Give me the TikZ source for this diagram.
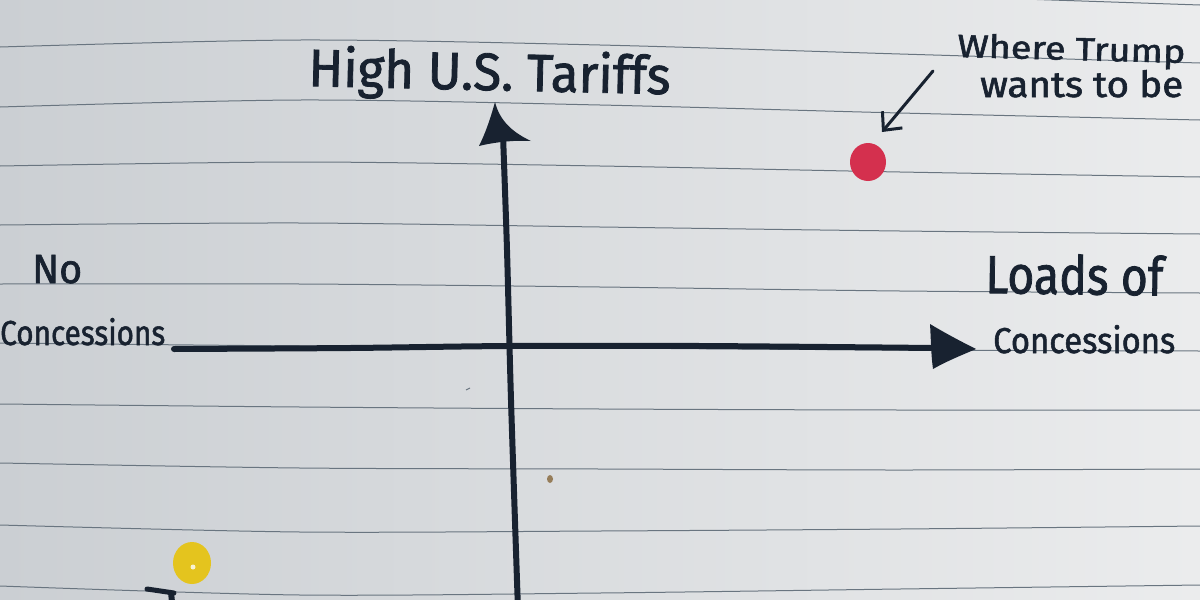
\documentclass[tikz,border=0pt]{standalone}
\usepackage{fontspec}
\setmainfont{Fira Sans}
\newfontfamily\handfont{Fira Sans}[FakeBold=1.6]
\usepackage{graphicx}
\usetikzlibrary{arrows.meta,shapes.geometric}
\definecolor{ink}{RGB}{24,34,48}
\definecolor{rulec}{RGB}{105,117,128}
\definecolor{paperL}{RGB}{203,207,211}
\definecolor{paperM}{RGB}{225,227,229}
\definecolor{paperR}{RGB}{235,236,237}
\definecolor{reddot}{RGB}{212,48,78}
\definecolor{yeldot}{RGB}{228,196,30}
\definecolor{speck}{RGB}{150,125,90}
\newcommand{\hw}[3]{\resizebox{#1pt}{#2pt}{\handfont #3}}
\begin{document}
\begin{tikzpicture}[x=1pt,y=-1pt,
  ruled/.style={draw=rulec,line width=1pt},
  axisline/.style={draw=ink,line width=6pt,line cap=round,line join=round},
  hand/.style={text=ink,inner sep=0pt,anchor=base west},
  pointer/.style={draw=ink,line width=3pt,line cap=round,-{Straight Barb[length=14pt,width=26pt]}}]
\useasboundingbox (0,0) rectangle (1200,600);
\clip (0,0) rectangle (1200,600);
\shade[left color=paperL,middle color=paperM,right color=paperR] (0,0) rectangle (1200,600);
% ruled lines
\foreach \a/\b/\c/\d/\e in {-13/-18/-14/-5/5, 47/40/45/54/63, 107/100/105/113/120,
  166/162/166/172/177, 225/223/227/231/234, 284/284/287/291/293, 343/346/348/350/351,
  404/407/409/410/410, 463/468/469/470/469, 525/532/531/529/526, 586/595/593/589/585}
  \draw[ruled] plot[smooth] coordinates {(0,\a)(300,\b)(600,\c)(900,\d)(1200,\e)};
% specks
\fill[speck] (550,479) ellipse (3 and 4);
\draw[rulec,line width=1pt] (466,390) -- (470,388);
% vertical axis
\draw[axisline] plot[smooth] coordinates {(503,135)(507,250)(511,400)(518,610)};
\fill[ink] (495,102) .. controls (490,120) and (485,134) .. (479,146)
  .. controls (495,142) and (515,140) .. (531,141)
  .. controls (514,133) and (500,122) .. (495,102) -- cycle;
% horizontal axis
\draw[axisline] plot[smooth] coordinates {(174,349)(350,348)(510,346)(700,346)(935,348)};
\fill[ink] (930,324) .. controls (945,333) and (960,341) .. (976,349)
  .. controls (962,355) and (947,361) .. (933,369)
  .. controls (931,355) and (931,340) .. (930,324) -- cycle;
% labels
\node[hand,rotate=-1.3] (ytop) at (308,86) {\hw{362}{41}{High U.S. Tariffs}};
\node[hand] (no) at (32,283) {\hw{50}{28}{No}};
\node[hand] (concl) at (0,345) {\hw{165}{27}{Concessions}};
\node[hand,rotate=-0.8] (loads) at (985,293) {\hw{178}{40}{Loads of}};
\node[hand] (concr) at (993,353) {\hw{182}{28}{Concessions}};
\node[hand,rotate=-1.5] (where) at (957,57) {\hw{228}{24}{Where Trump}};
\node[hand] (wants) at (980,97) {\hw{203}{27}{wants to be}};
% red dot and pointer
\node[ellipse,fill=reddot,minimum width=36pt,minimum height=38pt,inner sep=0pt] (trump) at (868,162) {};
\coordinate (ptrstart) at (933,71);
\coordinate (ptrend) at (882,132);
\draw[pointer] (ptrstart) -- (ptrend);
% yellow dot
\node[ellipse,fill=yeldot,minimum width=38pt,minimum height=42pt,inner sep=0pt] (yellow) at (192,563) {};
\fill[white,opacity=0.8] (193,567) circle (2.5);
% pen mark at bottom
\draw[ink,line width=5pt,line cap=round] (147,589) -- (174,593);
\draw[ink,line width=6pt] (171,592) -- (172,602);
\end{tikzpicture}
\end{document}
